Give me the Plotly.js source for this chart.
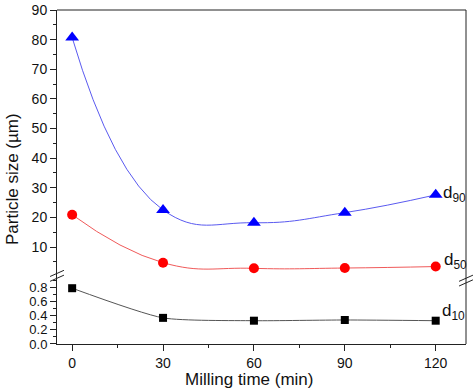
<!DOCTYPE html>
<html><head><meta charset="utf-8">
<script src="https://cdn.plot.ly/plotly-3.0.1.min.js"></script>
<style>html,body{margin:0;padding:0;background:#fff}#chart{width:474px;height:389px}</style>
</head><body><div id="chart"></div>
<script>
var millingTime = [0, 30, 60, 90, 120];
var d90 = [80.7, 22.5, 18.2, 21.6, 27.6];
var d50 = [20.9, 4.7, 2.8, 2.9, 3.4];
var d10 = [0.79, 0.37, 0.33, 0.34, 0.33];
var seriesLabels = ['d<sub>90</sub>', 'd<sub>50</sub>', 'd<sub>10</sub>'];

var FONT = 'Liberation Sans, Arial, sans-serif';
var traces = [
  {x: millingTime, y: d90, xaxis: 'x', yaxis: 'y2', mode: 'lines+markers',
   line: {shape: 'spline', smoothing: 1.3, color: '#5a5af0', width: 1},
   marker: {symbol: 'triangle-up', size: 12, color: '#0000ff'}},
  {x: millingTime, y: d50, xaxis: 'x', yaxis: 'y2', mode: 'lines+markers',
   line: {shape: 'spline', smoothing: 1.3, color: '#f05a5a', width: 1},
   marker: {symbol: 'circle', size: 10, color: '#ff0000'}},
  {x: millingTime, y: d10, xaxis: 'x', yaxis: 'y', mode: 'lines+markers',
   line: {shape: 'spline', smoothing: 0.6, color: '#555555', width: 1},
   marker: {symbol: 'square', size: 8, color: '#000000'}}
];

var split = 0.2066;
var axCommon = {showgrid: false, zeroline: false, showline: true, linecolor: '#222', linewidth: 1,
  ticks: 'outside', ticklen: 6, tickcolor: '#222', tickwidth: 1,
  tickfont: {family: FONT, size: 14, color: '#111'}};

var layout = {
  width: 474, height: 389,
  margin: {l: 57, r: 8, t: 10, b: 45},
  paper_bgcolor: '#fff', plot_bgcolor: '#fff',
  showlegend: false,
  xaxis: Object.assign({}, axCommon, {range: [-5, 130], tick0: 0, dtick: 30, anchor: 'y',
    minor: {dtick: 15, ticklen: 3, ticks: 'outside', tickcolor: '#222'}}),
  yaxis: Object.assign({}, axCommon, {domain: [0, split], range: [0, 0.977], tick0: 0, dtick: 0.2,
    tickformat: '.1f', anchor: 'x', tickfont: {family: FONT, size: 13, color: '#111'},
    minor: {dtick: 0.1, ticklen: 3, ticks: 'outside', tickcolor: '#222'}}),
  yaxis2: Object.assign({}, axCommon, {domain: [split, 1], range: [0.55, 90], tick0: 0, dtick: 10,
    anchor: 'x',
    minor: {dtick: 5, ticklen: 3, ticks: 'outside', tickcolor: '#222'}}),
  shapes: [
    {type: 'line', xref: 'paper', yref: 'paper', x0: 0, x1: 1, y0: 1, y1: 1, line: {color: '#222', width: 1}},
    {type: 'line', xref: 'paper', yref: 'paper', x0: 1, x1: 1, y0: 0, y1: 1, line: {color: '#222', width: 1}},
    {type: 'line', xref: 'paper', yref: 'paper', x0: -0.017, x1: 0.017, y0: split - 0.0045, y1: split + 0.014, line: {color: '#222', width: 1}},
    {type: 'line', xref: 'paper', yref: 'paper', x0: -0.017, x1: 0.017, y0: split - 0.019, y1: split - 0.0005, line: {color: '#222', width: 1}},
    {type: 'line', xref: 'paper', yref: 'paper', x0: 0.983, x1: 1.017, y0: split - 0.019, y1: split - 0.0005, line: {color: '#222', width: 1}},
    {type: 'line', xref: 'paper', yref: 'paper', x0: 0.983, x1: 1.017, y0: split - 0.033, y1: split - 0.0145, line: {color: '#222', width: 1}}
  ],
  annotations: [
    {text: 'Particle size (µm)', xref: 'paper', yref: 'paper', x: -0.11, y: 0.494, textangle: -90,
     showarrow: false, xanchor: 'center', yanchor: 'middle', font: {family: FONT, size: 17, color: '#111'}},
    {text: 'Milling time (min)', xref: 'paper', yref: 'paper', x: 0.469, y: -0.105,
     showarrow: false, xanchor: 'center', yanchor: 'middle', font: {family: FONT, size: 17, color: '#111'}},
    {text: seriesLabels[0], xref: 'paper', yref: 'paper', x: 0.939, y: 0.449, showarrow: false,
     xanchor: 'left', yanchor: 'middle', font: {family: FONT, size: 17, color: '#111'}},
    {text: seriesLabels[1], xref: 'paper', yref: 'paper', x: 0.941, y: 0.2485, showarrow: false,
     xanchor: 'left', yanchor: 'middle', font: {family: FONT, size: 17, color: '#111'}},
    {text: seriesLabels[2], xref: 'paper', yref: 'paper', x: 0.936, y: 0.096, showarrow: false,
     xanchor: 'left', yanchor: 'middle', font: {family: FONT, size: 17, color: '#111'}}
  ]
};
Plotly.newPlot('chart', traces, layout, {displayModeBar: false, staticPlot: true});
</script></body></html>
